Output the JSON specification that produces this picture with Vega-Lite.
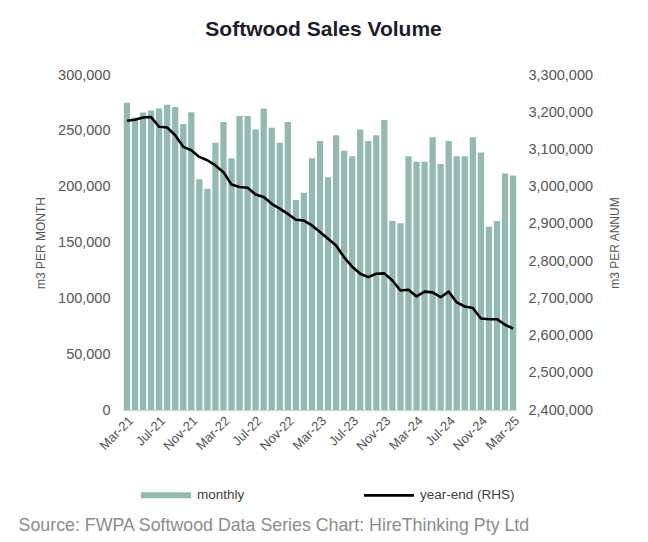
{
  "$schema": "https://vega.github.io/schema/vega-lite/v6.json",
  "background": "white",
  "padding": {"left": 18, "top": 19, "right": 10, "bottom": 5},
  "title": {
    "text": "Softwood Sales Volume",
    "font": "Liberation Sans",
    "fontSize": 21,
    "fontWeight": "bold",
    "color": "#1c1c2c",
    "anchor": "middle",
    "offset": 27,
    "dx": 4
  },
  "config": {
    "view": {"stroke": null},
    "font": "Liberation Sans"
  },
  "vconcat": [
    {
      "width": 394,
      "height": 335,
      "title": {
        "text": "Source: FWPA Softwood Data Series Chart: HireThinking Pty Ltd",
        "orient": "bottom",
        "anchor": "start",
        "font": "Liberation Sans",
        "fontSize": 17.8,
        "fontWeight": "normal",
        "color": "#8c8c8c",
        "offset": 64,
        "dx": -16
      },
      "data": {
        "values": [
          {"month": "Mar-21", "monthly": 275200, "yearEnd": 3177000},
          {"month": "Apr-21", "monthly": 262000, "yearEnd": 3180000},
          {"month": "May-21", "monthly": 266500, "yearEnd": 3186000},
          {"month": "Jun-21", "monthly": 268300, "yearEnd": 3187000},
          {"month": "Jul-21", "monthly": 270000, "yearEnd": 3161000},
          {"month": "Aug-21", "monthly": 273300, "yearEnd": 3159000},
          {"month": "Sep-21", "monthly": 271400, "yearEnd": 3138000},
          {"month": "Oct-21", "monthly": 256100, "yearEnd": 3107000},
          {"month": "Nov-21", "monthly": 266600, "yearEnd": 3098000},
          {"month": "Dec-21", "monthly": 206600, "yearEnd": 3080000},
          {"month": "Jan-22", "monthly": 198200, "yearEnd": 3071000},
          {"month": "Feb-22", "monthly": 239400, "yearEnd": 3057000},
          {"month": "Mar-22", "monthly": 257900, "yearEnd": 3039000},
          {"month": "Apr-22", "monthly": 225400, "yearEnd": 3006000},
          {"month": "May-22", "monthly": 263300, "yearEnd": 2999000},
          {"month": "Jun-22", "monthly": 263300, "yearEnd": 2997000},
          {"month": "Jul-22", "monthly": 251300, "yearEnd": 2979000},
          {"month": "Aug-22", "monthly": 269900, "yearEnd": 2972000},
          {"month": "Sep-22", "monthly": 252800, "yearEnd": 2954000},
          {"month": "Oct-22", "monthly": 239400, "yearEnd": 2941000},
          {"month": "Nov-22", "monthly": 257900, "yearEnd": 2927000},
          {"month": "Dec-22", "monthly": 188100, "yearEnd": 2911000},
          {"month": "Jan-23", "monthly": 194600, "yearEnd": 2909000},
          {"month": "Feb-23", "monthly": 225400, "yearEnd": 2896000},
          {"month": "Mar-23", "monthly": 240900, "yearEnd": 2878000},
          {"month": "Apr-23", "monthly": 208400, "yearEnd": 2860000},
          {"month": "May-23", "monthly": 246000, "yearEnd": 2842000},
          {"month": "Jun-23", "monthly": 232200, "yearEnd": 2810000},
          {"month": "Jul-23", "monthly": 227200, "yearEnd": 2785000},
          {"month": "Aug-23", "monthly": 251300, "yearEnd": 2766000},
          {"month": "Sep-23", "monthly": 240900, "yearEnd": 2757000},
          {"month": "Oct-23", "monthly": 246000, "yearEnd": 2766000},
          {"month": "Nov-23", "monthly": 259700, "yearEnd": 2767000},
          {"month": "Dec-23", "monthly": 169300, "yearEnd": 2748000},
          {"month": "Jan-24", "monthly": 167200, "yearEnd": 2721000},
          {"month": "Feb-24", "monthly": 227200, "yearEnd": 2723000},
          {"month": "Mar-24", "monthly": 222400, "yearEnd": 2705000},
          {"month": "Apr-24", "monthly": 222400, "yearEnd": 2718000},
          {"month": "May-24", "monthly": 244200, "yearEnd": 2716000},
          {"month": "Jun-24", "monthly": 220300, "yearEnd": 2703000},
          {"month": "Jul-24", "monthly": 240900, "yearEnd": 2718000},
          {"month": "Aug-24", "monthly": 227200, "yearEnd": 2689000},
          {"month": "Sep-24", "monthly": 227200, "yearEnd": 2678000},
          {"month": "Oct-24", "monthly": 244200, "yearEnd": 2674000},
          {"month": "Nov-24", "monthly": 230700, "yearEnd": 2646000},
          {"month": "Dec-24", "monthly": 164200, "yearEnd": 2644000},
          {"month": "Jan-25", "monthly": 169300, "yearEnd": 2644000},
          {"month": "Feb-25", "monthly": 211900, "yearEnd": 2629000},
          {"month": "Mar-25", "monthly": 210100, "yearEnd": 2619000}
        ]
      },
      "encoding": {
        "x": {
          "field": "month",
          "type": "ordinal",
          "sort": null,
          "scale": {"paddingInner": 0.22, "paddingOuter": 0.1},
          "axis": {
            "title": null,
            "values": ["Mar-21", "Jul-21", "Nov-21", "Mar-22", "Jul-22", "Nov-22", "Mar-23", "Jul-23", "Nov-23", "Mar-24", "Jul-24", "Nov-24", "Mar-25"],
            "labelAngle": -45,
            "labelAlign": "right",
            "labelBaseline": "top",
            "labelFont": "Liberation Sans",
            "labelFontSize": 13,
            "labelColor": "#555555",
            "labelPadding": 4,
            "ticks": false,
            "domainColor": "#d9d9d9",
            "domainWidth": 1.5,
            "grid": false
          }
        }
      },
      "layer": [
        {
          "mark": {"type": "bar"},
          "encoding": {
            "y": {
              "field": "monthly",
              "type": "quantitative",
              "scale": {"domain": [0, 300000], "nice": false},
              "axis": {
                "title": "m3 PER MONTH",
                "titleFont": "Liberation Sans",
                "titleFontSize": 12,
                "titleFontWeight": "normal",
                "titleColor": "#555555",
                "titlePadding": 10,
                "values": [0, 50000, 100000, 150000, 200000, 250000, 300000],
                "format": ",.0f",
                "labelFont": "Liberation Sans",
                "labelFontSize": 14.5,
                "labelColor": "#555555",
                "labelPadding": 13,
                "ticks": false,
                "domain": false,
                "grid": false
              }
            },
            "color": {
              "datum": "monthly",
              "type": "nominal",
              "scale": {"domain": ["monthly", "year-end (RHS)"], "range": ["#94b9b1", "#000000"]},
              "legend": {
                "orient": "none",
                "direction": "horizontal",
                "legendX": 18,
                "legendY": 395,
                "title": null,
                "columnPadding": 119,
                "symbolSize": 2500,
                "labelFont": "Liberation Sans",
                "labelFontSize": 13.5,
                "labelColor": "#404040",
                "labelOffset": 6,
                "labelLimit": 200,
                "encode": {
                  "symbols": {
                    "update": {
                      "shape": [
                        {"test": "datum.value === 'monthly'", "value": "M-1,-0.12H1V0.12H-1Z"},
                        {"value": "M-1,-0.055H1V0.055H-1Z"}
                      ],
                      "fill": [
                        {"test": "datum.value === 'monthly'", "value": "#94b9b1"},
                        {"value": "#000000"}
                      ],
                      "stroke": {"value": "transparent"},
                      "strokeWidth": {"value": 0},
                      "opacity": {"value": 1}
                    }
                  }
                }
              }
            }
          }
        },
        {
          "mark": {"type": "line", "strokeWidth": 2.6, "strokeJoin": "round"},
          "encoding": {
            "y": {
              "field": "yearEnd",
              "type": "quantitative",
              "scale": {"domain": [2400000, 3300000], "nice": false, "zero": false},
              "axis": {
                "orient": "right",
                "title": "m3 PER ANNUM",
                "titleAngle": 270,
                "titleFont": "Liberation Sans",
                "titleFontSize": 12,
                "titleFontWeight": "normal",
                "titleColor": "#555555",
                "titlePadding": 29,
                "values": [2400000, 2500000, 2600000, 2700000, 2800000, 2900000, 3000000, 3100000, 3200000, 3300000],
                "format": ",.0f",
                "labelFont": "Liberation Sans",
                "labelFontSize": 14.5,
                "labelColor": "#555555",
                "labelPadding": 11,
                "ticks": false,
                "domain": false,
                "grid": false
              }
            },
            "color": {"datum": "year-end (RHS)", "type": "nominal"}
          }
        }
      ],
      "resolve": {"scale": {"y": "independent"}}
    }
  ]
}
